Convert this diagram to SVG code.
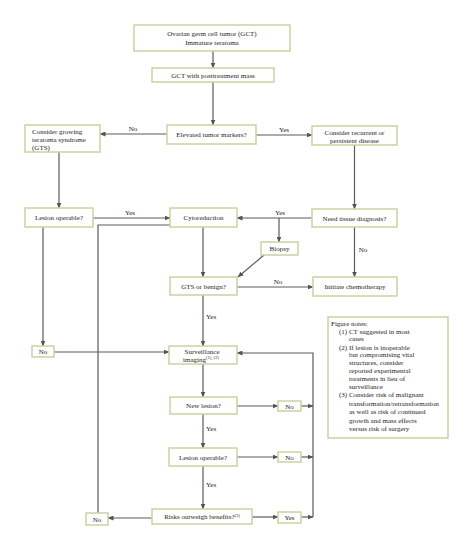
<svg xmlns="http://www.w3.org/2000/svg" width="474" height="550" viewBox="0 0 474 550">
<defs>
<marker id="ah" markerUnits="userSpaceOnUse" markerWidth="6" markerHeight="5" refX="5.5" refY="2.5" orient="auto">
<path d="M0,0 L6,2.5 L0,5 Z" fill="#555"/>
</marker>
<style>
rect.b{fill:#fff;stroke:#c9d3a2;stroke-width:1.5}
text{font-family:"Liberation Serif","Times New Roman",serif;font-size:7px;fill:#1e1e1e}
.c{text-anchor:middle}
.s{font-size:4.5px}
#connectors path,#connectors line,#connectors polyline{fill:none;stroke:#5a5a5a;stroke-width:1.2}
.a{marker-end:url(#ah)}
</style>
</defs>
<rect width="474" height="550" fill="#fff"/>
<g id="connectors">
<line class="a" x1="213" y1="51" x2="213" y2="68"/>
<line class="a" x1="213" y1="82" x2="213" y2="125"/>
<line class="a" x1="167" y1="134" x2="100" y2="134"/>
<line class="a" x1="256" y1="135" x2="312" y2="135"/>
<line class="a" x1="59" y1="152" x2="59" y2="208"/>
<line class="a" x1="354.5" y1="145" x2="354.5" y2="209"/>
<line class="a" x1="93" y1="218" x2="170" y2="218"/>
<line class="a" x1="312" y1="218" x2="237" y2="218"/>
<line class="a" x1="279" y1="218" x2="279" y2="242"/>
<line class="a" x1="264" y1="255" x2="238" y2="277"/>
<line class="a" x1="354.5" y1="227" x2="354.5" y2="277"/>
<line class="a" x1="237" y1="287" x2="313" y2="287"/>
<line class="a" x1="203" y1="227" x2="203" y2="277"/>
<line class="a" x1="43" y1="227" x2="43" y2="346"/>
<line class="a" x1="54" y1="352" x2="169" y2="352"/>
<line class="a" x1="203" y1="295" x2="203" y2="346"/>
<polyline class="a" points="98,513 98,225 177,225"/>
<line class="a" x1="203" y1="364" x2="203" y2="397"/>
<line class="a" x1="237" y1="406" x2="278" y2="406"/>
<line class="a" x1="301" y1="406" x2="313" y2="406"/>
<line class="a" x1="203" y1="414" x2="203" y2="448"/>
<line class="a" x1="237" y1="457" x2="278" y2="457"/>
<line class="a" x1="301" y1="457" x2="313" y2="457"/>
<line class="a" x1="203" y1="466" x2="203" y2="509"/>
<line class="a" x1="252" y1="517" x2="278" y2="517"/>
<line class="a" x1="301" y1="517" x2="313" y2="517"/>
<polyline class="a" points="313,517 313,353 237,353"/>
<line class="a" x1="152" y1="518" x2="108" y2="518"/>
<text x="133" y="131" class="c">No</text>
<text x="284" y="132" class="c">Yes</text>
<text x="130" y="215" class="c">Yes</text>
<text x="280" y="215" class="c">Yes</text>
<text x="363" y="252" class="c">No</text>
<text x="278" y="284" class="c">No</text>
<text x="206" y="319">Yes</text>
<text x="206" y="431">Yes</text>
<text x="206" y="487">Yes</text>
</g>
<g id="n1"><rect class="b" x="134" y="25" width="156" height="26"/>
<text x="212" y="36" class="c">Ovarian germ cell tumor (GCT)</text>
<text x="212" y="45" class="c">Immature teratoma</text></g>
<g id="n2"><rect class="b" x="152" y="68" width="122" height="14"/>
<text x="213" y="77.5" class="c">GCT with posttreatment mass</text></g>
<g id="n3"><rect class="b" x="167" y="125" width="89" height="19"/>
<text x="211.5" y="137" class="c">Elevated tumor markers?</text></g>
<g id="n4"><rect class="b" x="25" y="125" width="75" height="27"/>
<text x="32" y="133.5">Consider growing</text>
<text x="32" y="141.5">teratoma syndrome</text>
<text x="32" y="149.5">(GTS)</text></g>
<g id="n5"><rect class="b" x="312" y="126" width="85" height="19"/>
<text x="354.5" y="134.5" class="c">Consider recurrent or</text>
<text x="354.5" y="142.5" class="c">persistent disease</text></g>
<g id="n6"><rect class="b" x="25" y="208" width="68" height="19"/>
<text x="59" y="219.5" class="c">Lesion operable?</text></g>
<g id="n7"><rect class="b" x="170" y="208" width="67" height="19"/>
<text x="203.5" y="219.5" class="c">Cytoreduction</text></g>
<g id="n8"><rect class="b" x="312" y="209" width="85" height="18"/>
<text x="354.5" y="220.5" class="c">Need tissue diagnosis?</text></g>
<g id="n9"><rect class="b" x="261" y="242" width="37" height="13"/>
<text x="279.5" y="250.5" class="c">Biopsy</text></g>
<g id="n10"><rect class="b" x="170" y="277" width="67" height="18"/>
<text x="203.5" y="288.5" class="c">GTS or benign?</text></g>
<g id="n11"><rect class="b" x="313" y="277" width="84" height="19"/>
<text x="355" y="289" class="c">Initiate chemotherapy</text></g>
<g id="n12"><rect class="b" x="32" y="346" width="22" height="11"/>
<text x="43" y="354" class="c">No</text></g>
<g id="n13"><rect class="b" x="169" y="346" width="68" height="18"/>
<text x="202" y="353.5" class="c">Surveillance</text>
<text x="183" y="361.5">imaging<tspan class="s" dy="-2.5">(1), (2)</tspan></text></g>
<g id="n14"><rect class="b" x="170" y="397" width="67" height="17"/>
<text x="203.5" y="408" class="c">New lesion?</text></g>
<g id="n15"><rect class="b" x="278" y="401" width="23" height="10"/>
<text x="289.5" y="408.5" class="c">No</text></g>
<g id="n16"><rect class="b" x="169" y="448" width="68" height="18"/>
<text x="203" y="459.5" class="c">Lesion operable?</text></g>
<g id="n17"><rect class="b" x="278" y="452" width="23" height="10"/>
<text x="289.5" y="459.5" class="c">No</text></g>
<g id="n18"><rect class="b" x="152" y="509" width="100" height="15"/>
<text x="202" y="519" class="c">Risks outweigh benefits?<tspan class="s" dy="-2.5">(3)</tspan></text></g>
<g id="n19"><rect class="b" x="278" y="512" width="23" height="11"/>
<text x="289.5" y="520" class="c">Yes</text></g>
<g id="n20"><rect class="b" x="86" y="513" width="22" height="12"/>
<text x="97" y="521.5" class="c">No</text></g>
<g id="notes"><rect class="b" x="328" y="317" width="120" height="121"/>
<text x="331" y="325.5">Figure notes:</text>
<text x="339" y="333.5">(1) CT suggested in most</text>
<text x="349" y="341">cases</text>
<text x="339" y="349.5">(2) If lesion is inoperable</text>
<text x="349" y="357">but compromising vital</text>
<text x="349" y="365">structures, consider</text>
<text x="349" y="373">reported experimental</text>
<text x="349" y="381">treatments in lieu of</text>
<text x="349" y="388.5">surveillance</text>
<text x="339" y="397">(3) Consider risk of malignant</text>
<text x="349" y="405.5">transformation/retransformation</text>
<text x="349" y="414">as well as risk of continued</text>
<text x="349" y="422.5">growth and mass effects</text>
<text x="349" y="431">versus risk of surgery</text></g>
</svg>
